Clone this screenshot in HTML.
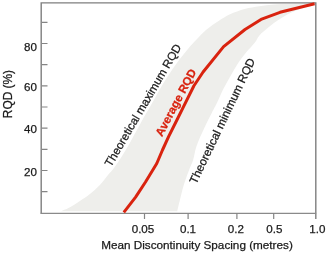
<!DOCTYPE html>
<html><head><meta charset="utf-8">
<style>
html,body{margin:0;padding:0;background:#fff;}
body{width:326px;height:254px;overflow:hidden;}
svg{display:block;}
text{font-family:"Liberation Sans",Arial,sans-serif;fill:#1a1a1a;stroke:#1a1a1a;stroke-width:0.25px;}
</style></head><body>
<svg width="326" height="254" viewBox="0 0 326 254">
<rect width="326" height="254" fill="#fff"/>
<!-- band -->
<path d="M61.0,211.3 C61.7,211.0 63.5,210.3 65.0,209.6 C66.5,208.9 67.5,208.6 70.0,207.2 C72.5,205.8 76.6,203.1 79.9,200.9 C83.2,198.7 86.6,196.6 89.9,193.9 C93.2,191.2 96.9,188.0 99.9,184.9 C102.9,181.8 105.5,178.0 107.8,175.2 C110.1,172.4 111.8,171.0 114.0,168.0 C116.2,165.0 118.9,161.1 121.3,157.3 C123.7,153.6 126.0,149.6 128.4,145.5 C130.8,141.4 133.3,136.4 135.5,132.5 C137.7,128.6 139.6,125.1 141.4,121.8 C143.2,118.5 144.4,116.4 146.5,112.8 C148.6,109.2 151.5,104.2 153.9,99.9 C156.3,95.6 158.6,91.3 161.0,87.2 C163.4,83.1 165.8,79.3 168.3,75.5 C170.8,71.7 173.5,67.8 175.8,64.5 C178.1,61.2 180.1,58.8 182.3,56.0 C184.5,53.2 186.9,50.2 189.2,47.5 C191.5,44.8 193.5,42.7 196.3,39.8 C199.1,36.9 202.3,33.1 206.0,30.0 C209.7,26.9 214.6,23.6 218.6,21.0 C222.6,18.4 225.7,16.3 230.0,14.3 C234.3,12.3 239.8,10.3 244.7,9.0 C249.6,7.6 254.5,6.9 259.4,6.2 C264.3,5.5 268.9,5.0 274.0,4.6 C279.1,4.2 283.2,4.1 290.0,3.8 C296.8,3.5 310.8,3.1 315.0,3.0 L315.0,3.0 C314.7,3.2 314.4,3.4 313.0,4.0 C311.6,4.6 309.2,5.6 306.6,6.6 C304.0,7.6 300.3,8.6 297.2,9.9 C294.1,11.2 290.9,12.5 287.8,14.2 C284.7,15.9 281.5,17.9 278.3,20.0 C275.1,22.1 272.0,24.5 268.9,27.1 C265.8,29.7 261.7,32.8 259.4,35.4 C257.1,38.0 257.1,39.7 254.9,42.6 C252.7,45.5 248.7,49.4 245.9,52.8 C243.1,56.2 240.8,59.2 238.2,63.1 C235.6,67.0 233.1,71.4 230.5,75.9 C227.9,80.4 225.2,85.3 222.8,90.0 C220.5,94.7 218.2,100.3 216.4,104.1 C214.6,107.9 213.9,108.8 211.9,112.8 C209.9,116.8 206.8,122.6 204.2,128.2 C201.6,133.8 198.3,140.9 196.5,146.2 C194.7,151.5 194.3,156.1 193.1,160.0 C191.9,163.9 190.4,166.4 189.2,169.7 C187.9,172.9 186.8,176.1 185.6,179.5 C184.4,182.9 183.3,186.7 182.3,190.3 C181.3,193.9 180.5,197.6 179.7,201.1 C178.8,204.6 177.6,209.6 177.2,211.3 Z" fill="#eeeeeb"/>
<!-- axes -->
<g stroke="#7f7f7f" stroke-width="1.4" fill="none">
<path d="M41.2,2.2 V213.4 M315.8,2.2 V219 M40.5,2.9 H316.5"/><path d="M40.5,213.4 H316.2" stroke="#8a8a8a"/>
</g>
<g stroke="#858585" stroke-width="1.2" fill="none">
<path d="M42,22.4 H47.5 M42,43.5 H47.5 M42,64.6 H47.5 M42,85.8 H47.5 M42,107 H47.5 M42,128.1 H47.5 M42,149.3 H47.5 M42,170.5 H47.5 M42,191.7 H47.5"/>
<path d="M144.5,213 V219 M188.1,213 V219 M236.9,213 V219 M273.7,213 V219"/>
</g>
<!-- red curve -->
<polyline points="123.8,212.3 135.6,197.1 145.5,182 156.75,163.5 162.5,150 168.6,136.7 177.9,118 183.8,106.1 193.8,86 203.1,72 223.6,46.6 245,29.5 261,19.4 280,12.3 314.6,3.8" fill="none" stroke="#d9230f" stroke-width="3" stroke-linejoin="round"/>
<!-- y labels -->
<g font-size="11.6" text-anchor="end">
<text x="36.9" y="51.1">80</text>
<text x="36.9" y="90.8">60</text>
<text x="36.9" y="133.4">40</text>
<text x="36.9" y="175.8">20</text>
</g>
<text font-size="11.9" text-anchor="middle" transform="translate(12,94.1) rotate(-90)">RQD (%)</text>
<g font-size="11.6" text-anchor="middle">
<text x="143" y="232.5">0.05</text>
<text x="188" y="232.5">0.1</text>
<text x="235.8" y="232.5">0.2</text>
<text x="274.3" y="232.5">0.5</text>
<text x="317.3" y="232.5">1.0</text>
<text x="197" y="248.7" textLength="191.7" lengthAdjust="spacingAndGlyphs">Mean Discontinuity Spacing (metres)</text>
</g>
<text font-size="11.6" transform="translate(111.1,167.5) rotate(-59.6)">Theoretical maximum RQD</text>
<text font-size="11.7" transform="translate(196.2,184.8) rotate(-64.5)">Theoretical minimum RQD</text>
<text font-size="11.6" font-weight="bold" style="fill:#d9230f;stroke:#d9230f" transform="translate(161.9,137.15) rotate(-62)">Average RQD</text>
</svg>
</body></html>
